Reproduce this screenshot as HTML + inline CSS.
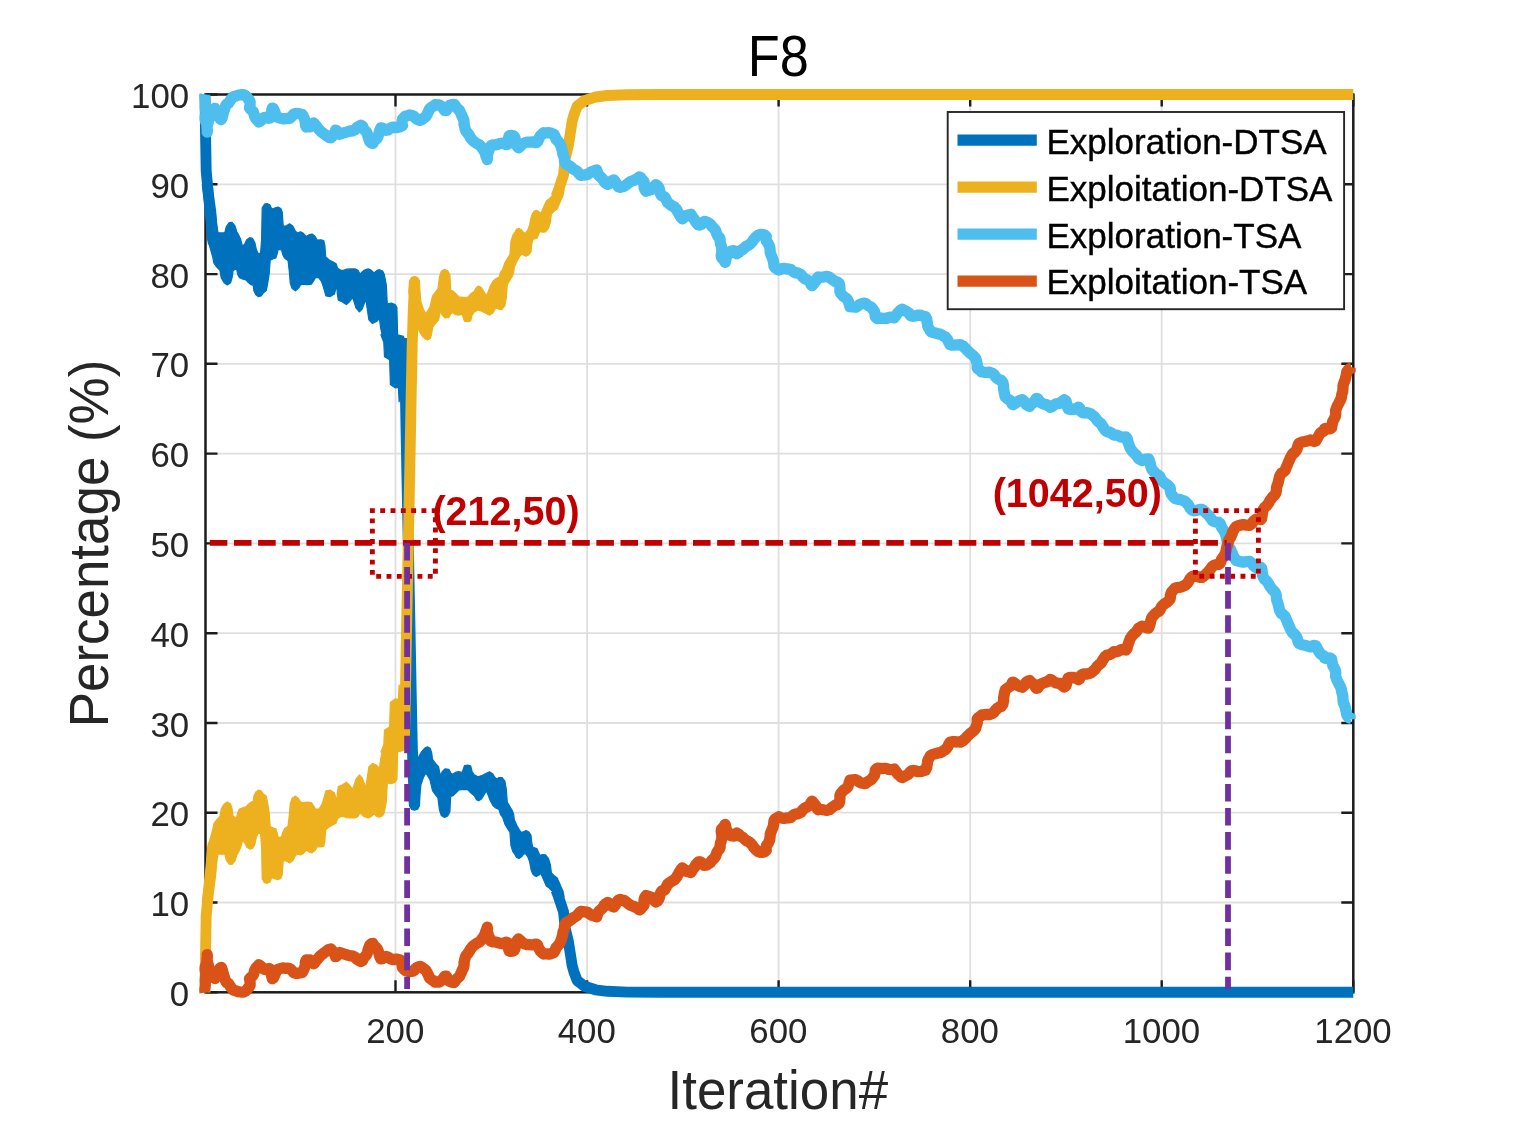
<!DOCTYPE html><html><head><meta charset="utf-8"><title>F8</title><style>html,body{margin:0;padding:0;background:#fff}body{width:1515px;height:1148px;overflow:hidden}</style></head><body><svg width="1515" height="1148" viewBox="0 0 1515 1148" style="display:block">
<rect width="1515" height="1148" fill="#fff"/>
<line x1="395.5" y1="94.5" x2="395.5" y2="992.3" stroke="#DFDFDF" stroke-width="1.8"/>
<line x1="587.1" y1="94.5" x2="587.1" y2="992.3" stroke="#DFDFDF" stroke-width="1.8"/>
<line x1="778.6" y1="94.5" x2="778.6" y2="992.3" stroke="#DFDFDF" stroke-width="1.8"/>
<line x1="970.2" y1="94.5" x2="970.2" y2="992.3" stroke="#DFDFDF" stroke-width="1.8"/>
<line x1="1161.7" y1="94.5" x2="1161.7" y2="992.3" stroke="#DFDFDF" stroke-width="1.8"/>
<line x1="204.9" y1="902.5" x2="1353.3" y2="902.5" stroke="#DFDFDF" stroke-width="1.8"/>
<line x1="204.9" y1="812.7" x2="1353.3" y2="812.7" stroke="#DFDFDF" stroke-width="1.8"/>
<line x1="204.9" y1="723.0" x2="1353.3" y2="723.0" stroke="#DFDFDF" stroke-width="1.8"/>
<line x1="204.9" y1="633.2" x2="1353.3" y2="633.2" stroke="#DFDFDF" stroke-width="1.8"/>
<line x1="204.9" y1="543.4" x2="1353.3" y2="543.4" stroke="#DFDFDF" stroke-width="1.8"/>
<line x1="204.9" y1="453.6" x2="1353.3" y2="453.6" stroke="#DFDFDF" stroke-width="1.8"/>
<line x1="204.9" y1="363.8" x2="1353.3" y2="363.8" stroke="#DFDFDF" stroke-width="1.8"/>
<line x1="204.9" y1="274.1" x2="1353.3" y2="274.1" stroke="#DFDFDF" stroke-width="1.8"/>
<line x1="204.9" y1="184.3" x2="1353.3" y2="184.3" stroke="#DFDFDF" stroke-width="1.8"/>
<rect x="205.5" y="94.5" width="1147.8" height="897.8" fill="none" stroke="#1c1c1c" stroke-width="2.5"/>
<path d="M395.5 992.3 v-12 M395.5 94.5 v12" stroke="#1c1c1c" stroke-width="2.4"/>
<path d="M587.1 992.3 v-12 M587.1 94.5 v12" stroke="#1c1c1c" stroke-width="2.4"/>
<path d="M778.6 992.3 v-12 M778.6 94.5 v12" stroke="#1c1c1c" stroke-width="2.4"/>
<path d="M970.2 992.3 v-12 M970.2 94.5 v12" stroke="#1c1c1c" stroke-width="2.4"/>
<path d="M1161.7 992.3 v-12 M1161.7 94.5 v12" stroke="#1c1c1c" stroke-width="2.4"/>
<path d="M1353.3 992.3 v-12 M1353.3 94.5 v12" stroke="#1c1c1c" stroke-width="2.4"/>
<path d="M205.5 992.3 h12 M1353.3 992.3 h-12" stroke="#1c1c1c" stroke-width="2.4"/>
<path d="M205.5 902.5 h12 M1353.3 902.5 h-12" stroke="#1c1c1c" stroke-width="2.4"/>
<path d="M205.5 812.7 h12 M1353.3 812.7 h-12" stroke="#1c1c1c" stroke-width="2.4"/>
<path d="M205.5 723.0 h12 M1353.3 723.0 h-12" stroke="#1c1c1c" stroke-width="2.4"/>
<path d="M205.5 633.2 h12 M1353.3 633.2 h-12" stroke="#1c1c1c" stroke-width="2.4"/>
<path d="M205.5 543.4 h12 M1353.3 543.4 h-12" stroke="#1c1c1c" stroke-width="2.4"/>
<path d="M205.5 453.6 h12 M1353.3 453.6 h-12" stroke="#1c1c1c" stroke-width="2.4"/>
<path d="M205.5 363.8 h12 M1353.3 363.8 h-12" stroke="#1c1c1c" stroke-width="2.4"/>
<path d="M205.5 274.1 h12 M1353.3 274.1 h-12" stroke="#1c1c1c" stroke-width="2.4"/>
<path d="M205.5 184.3 h12 M1353.3 184.3 h-12" stroke="#1c1c1c" stroke-width="2.4"/>
<path d="M205.5 94.5 h12 M1353.3 94.5 h-12" stroke="#1c1c1c" stroke-width="2.4"/>
<clipPath id="c"><rect x="199.3" y="82.5" width="1156.4" height="921.8"/></clipPath>
<g clip-path="url(#c)" fill="none" stroke-width="10.9" stroke-linejoin="round" stroke-linecap="butt">
<path d="M211.0 184.5 L213.2 210.7 L215.4 213.6 L216.8 225.3 L218.0 232.6 L221.9 232.9 L224.8 232.6 L226.3 226.7 L229.2 222.7 L232.1 222.4 L235.0 226.0 L236.8 231.8 L238.6 234.7 L240.8 239.8 L242.3 245.7 L244.5 244.5 L246.7 239.8 L249.6 237.7 L252.5 238.4 L254.9 242.7 L256.1 248.6 L257.9 253.2 L260.5 253.7 L261.6 239.8 L262.2 207.8 L264.5 204.2 L267.0 203.5 L269.9 204.9 L271.8 209.0 L274.7 208.1 L277.9 207.1 L280.8 208.6 L282.3 212.2 L283.2 226.0 L285.9 226.0 L289.6 223.8 L292.8 226.0 L295.4 231.1 L297.6 232.9 L300.5 231.8 L303.4 233.3 L306.3 236.6 L309.2 234.7 L312.1 234.0 L315.0 236.2 L317.2 240.1 L320.9 239.8 L323.8 240.6 L324.9 245.7 L325.7 257.0 L329.6 260.2 L333.2 262.0 L336.1 263.8 L337.6 268.2 L340.5 270.1 L343.4 270.4 L346.3 269.2 L350.7 268.9 L355.0 268.9 L358.0 270.4 L360.1 274.0 L363.8 270.4 L368.1 268.9 L371.1 270.1 L374.0 273.0 L376.9 270.4 L379.5 269.7 L382.7 271.1 L384.4 274.8 L386.3 284.9 L387.3 303.9 L391.4 303.1 L395.1 304.6 L396.9 307.5 L397.5 330.0 L397.6 334.9 L403.5 336.4 L407.1 348.0 L408.1 361.1 L399.1 401.8 L398.4 387.3 L395.5 388.0 L390.4 384.4 L389.6 359.7 L384.5 356.7 L383.8 342.2 L380.9 334.9 L382.0 334.4 L380.5 327.1 L379.5 318.4 L376.9 321.3 L372.5 323.5 L368.9 319.9 L367.1 308.2 L366.0 299.5 L364.1 303.9 L362.3 308.9 L359.4 311.9 L355.8 307.5 L354.3 302.4 L352.9 298.0 L351.4 299.2 L349.5 301.7 L346.3 304.6 L342.0 301.7 L338.3 300.2 L337.3 293.7 L336.9 286.4 L336.1 287.9 L334.4 294.0 L330.3 296.6 L325.9 295.9 L324.5 290.8 L322.3 283.5 L320.9 280.6 L318.7 277.7 L315.5 277.7 L313.6 280.9 L311.4 284.2 L307.0 284.7 L302.7 284.2 L300.5 284.9 L298.6 288.1 L295.4 290.8 L292.2 288.6 L290.3 283.5 L289.3 271.8 L288.1 260.9 L284.5 258.0 L282.7 254.4 L281.6 250.0 L278.2 249.3 L277.2 253.7 L275.8 258.0 L272.8 259.0 L270.2 260.2 L269.2 273.6 L267.7 283.5 L266.3 290.5 L263.4 292.9 L261.2 296.0 L258.3 296.6 L255.8 294.8 L253.9 290.8 L253.2 285.2 L251.0 284.7 L248.1 282.3 L245.9 279.9 L243.0 279.1 L239.4 277.7 L237.9 274.8 L236.5 268.9 L233.1 270.4 L232.1 277.7 L230.6 282.8 L227.3 284.9 L224.1 282.8 L221.2 277.7 L220.0 270.4 L216.8 267.2 L213.9 263.1 L212.8 257.3 L210.3 248.6 L207.8 239.8 L205.9 218.0 L204.0 199.1 L202.3 184.5Z" fill="#0072BD" stroke="#0072BD" stroke-width="1.2"/>
<path d="M408.8 795.0 L409.5 805.9 L411.7 809.5 L414.6 810.2 L417.6 809.2 L419.4 805.9 L420.0 795.0 L420.9 784.8 L423.4 777.5 L425.8 773.1 L427.7 776.0 L429.9 779.7 L432.5 790.6 L435.0 794.2 L437.9 797.9 L439.4 809.5 L441.3 815.6 L444.5 817.5 L447.7 816.0 L449.9 811.7 L450.7 796.4 L453.2 795.7 L456.1 792.8 L459.0 789.9 L463.4 789.4 L467.7 789.6 L470.7 792.8 L474.3 795.7 L476.5 799.6 L478.7 800.8 L481.6 799.0 L484.0 795.0 L486.4 790.9 L488.1 795.0 L490.3 800.8 L493.2 805.9 L496.1 808.3 L499.0 809.5 L500.5 814.6 L502.7 817.5 L504.9 824.1 L507.0 827.7 L509.9 832.1 L511.0 845.9 L512.9 851.7 L515.0 854.6 L516.5 857.5 L519.0 858.4 L521.6 856.8 L523.8 853.9 L525.9 853.9 L528.1 857.5 L529.6 861.9 L531.0 869.2 L532.5 873.5 L534.4 875.7 L536.4 876.4 L539.0 875.0 L540.9 873.5 L542.2 876.4 L543.7 880.1 L546.3 885.9 L549.2 888.1 L552.1 891.0 L555.0 896.8 L564.1 896.8 L563.0 891.0 L560.9 886.6 L559.1 882.3 L557.2 877.9 L554.3 875.7 L551.4 872.8 L550.4 864.8 L548.5 858.7 L545.6 854.9 L542.7 854.6 L539.8 855.3 L538.3 851.7 L536.9 848.5 L532.9 847.3 L531.8 843.0 L531.0 835.0 L528.9 832.1 L525.9 830.6 L523.0 832.1 L520.9 832.1 L519.4 829.9 L516.9 825.5 L514.3 819.7 L513.6 813.9 L512.1 810.2 L509.9 806.6 L507.3 802.2 L506.3 789.1 L504.9 781.1 L501.9 777.5 L499.0 777.5 L496.8 778.9 L494.7 777.2 L492.8 773.9 L489.6 771.7 L485.2 773.9 L481.6 775.7 L477.9 776.8 L474.3 774.9 L472.1 771.7 L470.7 765.9 L467.7 765.1 L464.5 765.6 L463.4 768.8 L462.2 772.4 L458.3 771.7 L455.4 772.4 L452.5 774.3 L451.0 773.1 L448.8 769.3 L445.2 768.8 L442.3 771.4 L440.8 775.3 L439.8 773.1 L438.6 766.6 L435.7 763.7 L432.5 759.3 L431.7 752.8 L430.2 748.4 L427.3 746.9 L424.8 748.1 L421.9 751.3 L419.7 754.9 L418.0 760.0 L417.3 751.3Z" fill="#0072BD" stroke="#0072BD" stroke-width="1.2"/>
<path d="M204.9 94.5 L205.6 137.0 L206.2 171.0 L207.6 186.0 L209.2 200.0 L210.7 211.0 L212.2 230.0 L213.3 244.0" stroke="#0072BD"/>
<path d="M404.2 338.0 L405.5 400.0 L406.8 470.0 L408.3 543.4 L409.8 617.0 L411.1 687.0 L412.2 742.0 L413.2 775.0 L414.6 804.3" stroke="#0072BD"/>
<path d="M556.0 890.3 L558.2 895.8 L560.5 902.8 L563.5 911.8 L565.3 928.8 L568.3 941.0 L570.8 956.8 L572.2 965.8 L573.9 971.8 L577.2 980.7 L584.4 986.2 L595.5 989.8 L607.4 991.3 L627.2 992.1 L660.0 992.3 L1353.3 992.3" stroke="#0072BD"/>
<path d="M211.0 902.3 L213.2 876.1 L215.4 873.2 L216.8 861.5 L218.0 854.2 L221.9 853.9 L224.8 854.2 L226.3 860.1 L229.2 864.1 L232.1 864.4 L235.0 860.8 L236.8 855.0 L238.6 852.1 L240.8 847.0 L242.3 841.1 L244.5 842.3 L246.7 847.0 L249.6 849.1 L252.5 848.4 L254.9 844.1 L256.1 838.2 L257.9 833.6 L260.5 833.1 L261.6 847.0 L262.2 879.0 L264.5 882.6 L267.0 883.3 L269.9 881.9 L271.8 877.8 L274.7 878.7 L277.9 879.7 L280.8 878.2 L282.3 874.6 L283.2 860.8 L285.9 860.8 L289.6 863.0 L292.8 860.8 L295.4 855.7 L297.6 853.9 L300.5 855.0 L303.4 853.5 L306.3 850.2 L309.2 852.1 L312.1 852.8 L315.0 850.6 L317.2 846.7 L320.9 847.0 L323.8 846.2 L324.9 841.1 L325.7 829.8 L329.6 826.6 L333.2 824.8 L336.1 823.0 L337.6 818.6 L340.5 816.7 L343.4 816.4 L346.3 817.6 L350.7 817.9 L355.0 817.9 L358.0 816.4 L360.1 812.8 L363.8 816.4 L368.1 817.9 L371.1 816.7 L374.0 813.8 L376.9 816.4 L379.5 817.1 L382.7 815.7 L384.4 812.0 L386.3 801.9 L387.3 782.9 L391.4 783.7 L395.1 782.2 L396.9 779.3 L397.5 756.8 L397.6 751.9 L403.5 750.4 L407.1 738.8 L408.1 725.7 L399.1 685.0 L398.4 699.5 L395.5 698.8 L390.4 702.4 L389.6 727.1 L384.5 730.1 L383.8 744.6 L380.9 751.9 L382.0 752.4 L380.5 759.7 L379.5 768.4 L376.9 765.5 L372.5 763.3 L368.9 766.9 L367.1 778.6 L366.0 787.3 L364.1 782.9 L362.3 777.9 L359.4 774.9 L355.8 779.3 L354.3 784.4 L352.9 788.8 L351.4 787.6 L349.5 785.1 L346.3 782.2 L342.0 785.1 L338.3 786.6 L337.3 793.1 L336.9 800.4 L336.1 798.9 L334.4 792.8 L330.3 790.2 L325.9 790.9 L324.5 796.0 L322.3 803.3 L320.9 806.2 L318.7 809.1 L315.5 809.1 L313.6 805.9 L311.4 802.6 L307.0 802.1 L302.7 802.6 L300.5 801.9 L298.6 798.7 L295.4 796.0 L292.2 798.2 L290.3 803.3 L289.3 815.0 L288.1 825.9 L284.5 828.8 L282.7 832.4 L281.6 836.8 L278.2 837.5 L277.2 833.1 L275.8 828.8 L272.8 827.8 L270.2 826.6 L269.2 813.2 L267.7 803.3 L266.3 796.3 L263.4 793.9 L261.2 790.8 L258.3 790.2 L255.8 792.0 L253.9 796.0 L253.2 801.6 L251.0 802.1 L248.1 804.5 L245.9 806.9 L243.0 807.7 L239.4 809.1 L237.9 812.0 L236.5 817.9 L233.1 816.4 L232.1 809.1 L230.6 804.0 L227.3 801.9 L224.1 804.0 L221.2 809.1 L220.0 816.4 L216.8 819.6 L213.9 823.7 L212.8 829.5 L210.3 838.2 L207.8 847.0 L205.9 868.8 L204.0 887.7 L202.3 902.3Z" fill="#EDB120" stroke="#EDB120" stroke-width="1.2"/>
<path d="M408.8 291.8 L409.5 280.9 L411.7 277.3 L414.6 276.6 L417.6 277.6 L419.4 280.9 L420.0 291.8 L420.9 302.0 L423.4 309.3 L425.8 313.7 L427.7 310.8 L429.9 307.1 L432.5 296.2 L435.0 292.6 L437.9 288.9 L439.4 277.3 L441.3 271.2 L444.5 269.3 L447.7 270.8 L449.9 275.1 L450.7 290.4 L453.2 291.1 L456.1 294.0 L459.0 296.9 L463.4 297.4 L467.7 297.2 L470.7 294.0 L474.3 291.1 L476.5 287.2 L478.7 286.0 L481.6 287.8 L484.0 291.8 L486.4 295.9 L488.1 291.8 L490.3 286.0 L493.2 280.9 L496.1 278.5 L499.0 277.3 L500.5 272.2 L502.7 269.3 L504.9 262.7 L507.0 259.1 L509.9 254.7 L511.0 240.9 L512.9 235.1 L515.0 232.2 L516.5 229.3 L519.0 228.4 L521.6 230.0 L523.8 232.9 L525.9 232.9 L528.1 229.3 L529.6 224.9 L531.0 217.6 L532.5 213.3 L534.4 211.1 L536.4 210.4 L539.0 211.8 L540.9 213.3 L542.2 210.4 L543.7 206.7 L546.3 200.9 L549.2 198.7 L552.1 195.8 L555.0 190.0 L564.1 190.0 L563.0 195.8 L560.9 200.2 L559.1 204.5 L557.2 208.9 L554.3 211.1 L551.4 214.0 L550.4 222.0 L548.5 228.1 L545.6 231.9 L542.7 232.2 L539.8 231.5 L538.3 235.1 L536.9 238.3 L532.9 239.5 L531.8 243.8 L531.0 251.8 L528.9 254.7 L525.9 256.2 L523.0 254.7 L520.9 254.7 L519.4 256.9 L516.9 261.3 L514.3 267.1 L513.6 272.9 L512.1 276.6 L509.9 280.2 L507.3 284.6 L506.3 297.7 L504.9 305.7 L501.9 309.3 L499.0 309.3 L496.8 307.9 L494.7 309.6 L492.8 312.9 L489.6 315.1 L485.2 312.9 L481.6 311.1 L477.9 310.0 L474.3 311.9 L472.1 315.1 L470.7 320.9 L467.7 321.7 L464.5 321.2 L463.4 318.0 L462.2 314.4 L458.3 315.1 L455.4 314.4 L452.5 312.5 L451.0 313.7 L448.8 317.5 L445.2 318.0 L442.3 315.4 L440.8 311.5 L439.8 313.7 L438.6 320.2 L435.7 323.1 L432.5 327.5 L431.7 334.0 L430.2 338.4 L427.3 339.9 L424.8 338.7 L421.9 335.5 L419.7 331.9 L418.0 326.8 L417.3 335.5Z" fill="#EDB120" stroke="#EDB120" stroke-width="1.2"/>
<path d="M204.9 992.3 L205.6 949.8 L206.2 915.8 L207.6 900.8 L209.2 886.8 L210.7 875.8 L212.2 856.8 L213.3 842.8" stroke="#EDB120"/>
<path d="M404.2 748.8 L405.5 686.8 L406.8 616.8 L408.3 543.4 L409.8 469.8 L411.1 399.8 L412.2 344.8 L413.2 311.8 L414.6 282.5" stroke="#EDB120"/>
<path d="M556.0 196.5 L558.2 191.0 L560.5 184.0 L563.5 175.0 L565.3 158.0 L568.3 145.8 L570.8 130.0 L572.2 121.0 L573.9 115.0 L577.2 106.1 L584.4 100.6 L595.5 97.0 L607.4 95.5 L627.2 94.7 L660.0 94.5 L1353.3 94.5" stroke="#EDB120"/>
<path d="M204.9 94.3 L204.4 96.8 L204.8 98.5 L205.1 100.1 L205.3 101.9 L205.3 103.6 L205.1 105.5 L205.2 107.7 L205.5 110.3 L205.9 112.4 L205.7 114.4 L205.1 116.2 L204.8 118.2 L205.1 119.9 L205.8 121.6 L206.6 123.4 L207.0 126.1 L207.2 128.1 L207.3 130.4 L207.2 132.2 L207.3 131.2 L207.2 129.5 L207.0 127.9 L207.3 125.7 L208.0 122.9 L208.8 119.6 L209.4 117.2 L210.1 115.4 L210.9 114.5 L211.9 113.1 L212.9 111.3 L214.1 109.5 L214.9 108.3 L215.8 109.8 L216.5 110.7 L217.6 113.0 L218.8 115.7 L220.2 119.0 L221.3 119.5 L222.2 117.4 L222.7 115.2 L223.3 112.8 L224.0 110.6 L225.1 107.5 L226.0 105.1 L226.7 104.0 L227.3 103.9 L228.3 103.4 L229.4 101.9 L230.7 99.8 L231.8 98.2 L233.3 96.7 L235.6 96.1 L238.1 95.2 L240.3 94.8 L242.1 94.6 L243.5 94.6 L245.2 95.6 L246.9 96.9 L248.1 98.9 L249.3 99.9 L250.1 101.6 L250.1 104.1 L249.8 106.7 L249.5 108.1 L250.3 108.9 L251.6 110.0 L253.2 111.7 L254.1 114.3 L254.7 116.6 L255.9 118.8 L257.3 120.1 L258.8 121.9 L260.2 121.2 L261.6 119.9 L263.5 118.0 L265.1 117.3 L267.2 117.7 L269.0 118.3 L270.4 117.7 L270.8 116.5 L271.0 115.0 L271.3 113.0 L271.8 110.3 L272.3 108.1 L273.3 108.6 L274.5 111.2 L275.6 113.9 L276.7 116.2 L278.2 117.6 L280.1 118.1 L282.1 118.7 L283.7 118.9 L285.9 118.4 L287.5 118.6 L288.9 118.5 L290.0 118.1 L291.8 116.4 L293.7 114.1 L296.0 113.3 L298.0 113.5 L300.0 114.0 L302.1 114.3 L303.1 115.8 L304.2 118.2 L305.0 120.5 L305.3 123.5 L305.6 125.5 L306.4 127.0 L308.5 126.7 L310.0 126.8 L311.2 125.8 L312.1 124.7 L313.6 123.0 L314.5 123.8 L315.6 125.2 L316.7 126.6 L318.1 128.5 L319.6 130.1 L321.1 131.7 L322.6 132.7 L324.0 133.9 L325.6 135.0 L327.2 136.2 L329.1 137.4 L330.9 137.8 L332.3 136.2 L333.6 134.5 L334.8 132.5 L335.6 130.2 L336.5 130.4 L337.5 131.7 L338.5 133.1 L339.8 134.3 L342.0 133.5 L344.4 132.7 L346.7 132.1 L348.5 131.4 L350.0 131.0 L352.0 131.0 L353.6 130.3 L355.4 129.5 L356.7 127.7 L359.0 126.3 L360.9 125.3 L362.6 126.2 L363.2 128.2 L364.3 129.6 L365.7 131.2 L366.8 132.4 L367.5 134.3 L367.9 136.2 L368.8 139.0 L369.8 141.7 L371.5 143.1 L372.9 143.3 L374.1 141.0 L375.5 139.9 L377.0 138.3 L378.0 136.4 L378.7 134.1 L379.2 132.1 L379.8 130.3 L380.8 128.0 L382.6 128.1 L384.5 129.4 L386.1 130.3 L387.9 129.9 L390.0 128.3 L392.0 127.4 L393.7 127.1 L395.3 127.7 L397.3 127.6 L399.6 127.1 L401.5 126.1 L402.6 125.5 L401.8 123.7 L402.0 121.8 L402.4 119.3 L404.0 117.5 L405.5 116.1 L407.7 115.7 L409.4 115.0 L411.2 115.3 L412.5 115.6 L413.9 116.2 L415.1 117.7 L416.8 119.2 L418.5 120.0 L420.3 120.4 L422.0 119.4 L424.0 118.0 L425.9 116.4 L427.1 114.4 L428.0 112.3 L428.7 111.2 L429.2 109.5 L429.9 108.6 L431.5 107.2 L433.3 106.3 L435.2 104.6 L437.2 104.9 L439.3 104.8 L441.2 106.1 L443.1 108.1 L444.8 110.7 L446.3 110.7 L447.1 109.2 L448.1 106.9 L449.7 105.4 L452.1 104.5 L454.2 104.3 L455.6 106.3 L456.7 107.8 L458.0 109.1 L459.4 110.3 L460.2 112.0 L461.2 114.0 L462.0 116.2 L463.3 118.7 L464.0 120.8 L464.1 123.0 L464.0 124.0 L464.3 125.3 L464.7 126.9 L465.2 129.2 L466.0 131.2 L467.4 132.8 L468.7 134.5 L469.7 136.1 L470.3 137.5 L471.4 138.8 L472.7 140.4 L474.6 142.0 L476.7 143.5 L479.0 144.6 L480.4 145.8 L481.3 146.8 L482.1 148.1 L483.2 149.4 L484.2 151.2 L485.2 152.9 L485.8 155.6 L486.7 157.4 L487.2 159.6 L487.5 157.7 L487.2 156.0 L488.0 153.3 L488.5 151.1 L489.7 148.6 L490.1 147.0 L491.1 145.4 L492.6 145.0 L495.0 144.9 L496.8 144.5 L499.0 143.8 L501.1 143.3 L503.1 143.2 L504.7 143.8 L506.1 144.6 L507.6 144.2 L508.0 141.7 L508.3 139.1 L508.7 137.5 L509.1 135.9 L510.5 135.4 L512.4 135.6 L514.2 136.3 L515.0 138.1 L515.3 140.7 L515.9 142.9 L516.6 145.1 L517.5 146.7 L518.5 147.8 L519.9 146.7 L521.1 145.6 L522.7 143.8 L524.7 142.9 L527.0 142.2 L529.2 142.2 L531.1 142.0 L533.0 142.0 L535.1 142.7 L536.4 142.6 L537.4 142.0 L538.1 140.4 L539.1 138.0 L540.4 135.7 L541.9 134.3 L542.9 133.4 L543.6 132.7 L545.0 133.0 L546.6 132.9 L548.9 132.6 L551.4 133.3 L553.9 134.2 L555.1 136.4 L555.6 137.9 L556.1 139.3 L557.2 140.2 L558.2 141.5 L559.3 142.7 L560.2 144.5 L561.2 147.0 L561.9 149.3 L562.6 151.5 L562.8 153.3 L563.0 154.8 L563.4 155.7 L564.0 156.9 L564.4 159.1 L564.6 161.9 L565.8 164.1 L567.9 165.0 L569.9 166.2 L571.7 167.4 L572.9 169.1 L574.2 169.6 L575.7 170.4 L577.3 171.5 L578.7 173.3 L579.7 174.5 L580.9 175.4 L583.1 175.1 L585.5 174.8 L587.4 174.7 L588.6 173.6 L589.9 172.8 L591.3 171.7 L593.3 171.3 L594.9 170.5 L596.8 170.0 L597.2 171.6 L597.8 173.1 L598.7 175.3 L600.3 176.7 L602.1 178.4 L603.2 179.6 L604.3 181.9 L605.8 183.2 L607.6 184.4 L609.2 183.6 L610.7 181.8 L612.3 180.5 L614.0 179.9 L615.5 182.1 L617.0 184.7 L618.4 186.7 L620.0 187.4 L622.1 186.7 L624.0 186.4 L626.3 184.8 L628.2 183.2 L630.6 181.5 L632.8 180.7 L634.9 179.9 L636.6 178.9 L637.8 178.2 L638.7 177.4 L639.4 176.9 L640.6 177.5 L641.9 179.4 L643.4 180.7 L644.1 182.0 L644.0 183.5 L644.0 185.7 L644.2 188.0 L645.0 189.8 L646.1 191.3 L647.9 190.6 L650.0 189.9 L651.0 189.5 L652.0 189.4 L653.0 188.1 L654.5 185.9 L655.9 184.8 L657.5 185.8 L659.0 188.0 L659.7 190.5 L660.2 192.8 L660.8 194.5 L661.7 195.7 L662.7 196.2 L663.9 196.5 L664.9 197.3 L666.1 199.5 L667.5 202.4 L669.6 204.2 L671.5 205.5 L672.9 206.3 L674.6 207.0 L675.5 208.4 L676.6 209.4 L677.2 210.9 L678.3 212.6 L679.6 215.1 L681.0 217.4 L682.3 218.9 L683.5 218.0 L685.1 216.8 L686.9 215.3 L689.3 214.8 L691.0 214.3 L691.9 215.9 L693.0 217.8 L694.6 219.6 L695.7 222.0 L696.9 223.3 L698.1 224.7 L699.7 225.1 L701.4 224.4 L702.7 222.8 L704.1 221.5 L705.8 221.6 L708.1 222.6 L710.3 224.1 L711.5 226.0 L712.6 227.0 L713.6 228.2 L714.6 229.0 L715.7 230.8 L716.3 232.7 L717.2 235.0 L718.2 236.5 L719.5 237.8 L720.1 239.4 L720.1 241.4 L720.5 243.9 L721.3 245.9 L721.8 248.3 L721.9 250.6 L721.5 253.3 L721.2 255.5 L721.5 257.5 L722.7 258.9 L724.1 260.5 L725.2 262.4 L725.6 261.0 L725.9 258.9 L726.5 256.7 L727.6 255.3 L728.4 254.0 L729.3 252.5 L730.6 251.2 L732.4 250.9 L734.0 250.7 L735.4 252.8 L736.8 253.7 L738.8 252.5 L740.7 250.3 L742.6 249.6 L743.8 248.3 L745.0 247.4 L746.1 246.1 L747.5 245.7 L749.0 244.9 L750.6 243.6 L752.5 241.4 L753.5 239.8 L754.7 238.4 L755.9 237.0 L758.1 235.3 L760.6 234.4 L762.5 234.4 L764.1 235.9 L765.5 236.9 L766.3 236.6 L764.7 235.0 L765.2 235.7 L765.8 237.7 L766.3 239.7 L766.5 241.3 L767.6 242.6 L768.6 244.4 L769.6 246.6 L770.0 249.2 L770.2 251.3 L770.2 252.6 L770.9 254.5 L771.7 256.6 L772.9 259.4 L773.5 261.6 L773.7 263.4 L773.9 265.0 L774.0 266.2 L774.9 267.7 L776.3 268.4 L778.0 269.5 L778.9 270.1 L780.4 269.3 L781.9 268.6 L783.9 268.4 L786.2 268.8 L788.6 268.9 L790.8 269.4 L792.4 271.0 L794.1 272.2 L795.8 272.8 L798.0 273.0 L799.4 273.7 L800.9 274.5 L801.5 275.3 L802.7 276.9 L804.4 278.5 L806.9 279.8 L809.2 281.0 L810.4 282.4 L810.9 284.3 L812.1 285.6 L813.8 283.6 L816.0 280.8 L817.3 278.0 L818.1 277.0 L818.9 277.1 L820.0 277.6 L821.7 277.3 L824.4 276.8 L827.0 276.4 L829.4 277.1 L831.3 278.8 L833.3 280.2 L835.4 281.7 L837.3 282.1 L839.0 283.2 L839.7 285.4 L839.9 288.2 L839.9 290.2 L839.9 291.5 L840.6 293.0 L841.9 294.7 L843.3 296.3 L844.9 297.4 L846.4 298.4 L847.6 299.8 L848.6 302.1 L849.3 304.5 L850.0 306.6 L851.6 306.8 L853.2 306.8 L855.1 307.1 L856.2 307.0 L857.6 306.2 L859.1 304.9 L861.6 303.7 L863.9 303.2 L865.8 303.5 L867.2 304.8 L868.9 305.9 L871.0 307.0 L872.3 308.5 L873.5 310.1 L874.4 311.3 L874.9 312.9 L875.1 314.6 L875.3 316.7 L876.5 318.0 L877.8 318.7 L879.7 318.5 L881.7 318.2 L884.1 318.4 L886.2 318.5 L888.4 317.5 L890.5 317.2 L892.6 317.1 L894.3 317.8 L895.2 316.4 L896.3 315.0 L897.6 313.0 L899.2 311.5 L900.7 310.0 L902.2 309.2 L904.4 310.5 L906.5 311.4 L908.3 312.6 L909.2 313.3 L910.0 314.9 L911.3 315.9 L913.3 316.3 L915.6 315.9 L917.7 315.2 L919.4 315.1 L921.3 315.4 L923.3 316.2 L925.5 316.6 L926.1 318.2 L926.8 319.4 L927.0 321.3 L927.4 323.7 L927.7 325.9 L928.4 327.6 L929.3 328.9 L930.1 330.6 L931.0 331.7 L932.7 332.4 L934.4 332.8 L936.2 333.3 L938.1 333.9 L940.3 334.2 L942.3 335.2 L943.4 336.0 L944.4 336.7 L945.5 337.0 L946.5 338.4 L947.7 339.9 L948.8 342.5 L950.0 344.6 L952.3 345.2 L954.2 345.2 L956.3 344.8 L958.1 345.0 L960.4 344.6 L962.0 345.6 L963.4 346.2 L964.3 347.4 L965.4 348.2 L966.6 349.8 L968.2 351.2 L970.0 353.1 L972.0 354.7 L973.7 356.1 L975.0 357.5 L975.9 358.9 L976.2 360.7 L976.8 362.3 L977.3 364.3 L977.2 366.4 L977.2 368.0 L978.6 369.3 L980.1 370.3 L981.7 371.9 L983.2 372.0 L985.1 372.3 L987.0 372.4 L989.1 372.1 L991.0 372.8 L992.3 373.3 L994.0 374.6 L995.2 376.3 L997.1 378.3 L999.1 379.7 L1001.2 380.2 L1002.0 381.6 L1002.9 382.5 L1003.2 384.2 L1003.6 386.4 L1003.6 389.1 L1004.1 391.5 L1004.4 393.5 L1004.8 395.3 L1005.3 397.1 L1006.9 398.3 L1008.6 399.5 L1010.4 400.6 L1011.5 402.3 L1012.3 404.3 L1013.0 404.7 L1014.6 403.7 L1017.0 401.9 L1019.8 400.4 L1022.3 399.6 L1023.7 400.7 L1024.9 402.3 L1026.3 404.7 L1028.0 405.7 L1029.7 406.3 L1031.0 404.4 L1032.7 403.4 L1034.0 401.9 L1035.2 400.1 L1036.2 398.5 L1037.6 398.6 L1039.2 400.9 L1041.0 402.8 L1043.1 403.7 L1044.9 404.4 L1046.8 404.8 L1048.6 406.0 L1050.2 407.3 L1051.7 406.7 L1053.5 405.3 L1055.5 404.1 L1058.0 403.5 L1059.9 403.4 L1061.3 402.3 L1062.6 400.9 L1064.2 399.8 L1066.0 401.0 L1066.8 403.9 L1067.4 406.3 L1067.6 407.3 L1068.1 408.8 L1070.1 409.5 L1073.2 409.4 L1075.8 408.5 L1077.4 408.1 L1078.5 407.2 L1079.5 407.9 L1080.3 409.5 L1081.2 411.6 L1082.5 412.6 L1084.6 413.0 L1087.0 412.7 L1089.2 413.3 L1091.2 414.1 L1093.0 415.7 L1094.8 417.2 L1096.1 418.8 L1097.1 420.5 L1098.4 421.6 L1099.5 422.6 L1100.9 423.5 L1102.0 425.4 L1103.6 427.9 L1105.1 430.3 L1106.8 431.6 L1108.0 432.0 L1109.3 432.0 L1110.8 432.8 L1112.3 433.8 L1113.8 435.1 L1115.2 435.0 L1116.9 435.2 L1118.9 435.8 L1121.1 437.1 L1123.6 437.1 L1125.9 436.8 L1127.1 438.4 L1127.5 440.4 L1127.9 441.8 L1128.1 442.4 L1128.6 443.6 L1129.2 445.4 L1130.3 448.4 L1132.0 450.9 L1134.1 453.2 L1135.7 454.4 L1136.7 455.6 L1137.5 456.9 L1138.5 458.5 L1140.2 459.6 L1142.0 460.6 L1144.6 459.7 L1146.8 459.0 L1148.5 458.8 L1149.3 460.5 L1150.2 463.3 L1150.9 466.5 L1151.6 468.8 L1152.5 470.1 L1153.7 471.4 L1155.5 473.4 L1157.3 474.6 L1158.7 475.4 L1159.6 476.3 L1160.6 478.2 L1161.7 480.4 L1163.0 481.7 L1164.7 483.1 L1166.7 484.3 L1168.8 486.2 L1170.1 487.7 L1170.4 489.7 L1170.3 491.1 L1170.8 492.9 L1171.6 494.8 L1173.4 496.8 L1174.9 498.4 L1176.5 499.0 L1178.0 499.4 L1180.1 499.4 L1181.8 500.1 L1183.5 500.8 L1185.2 501.5 L1186.5 502.9 L1188.0 504.4 L1189.2 506.5 L1190.2 508.3 L1191.3 509.5 L1192.5 510.3 L1194.4 510.8 L1197.0 510.2 L1199.8 509.5 L1201.9 509.4 L1203.0 510.1 L1204.0 511.1 L1205.3 511.9 L1206.7 513.5 L1208.4 515.1 L1209.9 517.0 L1211.3 518.9 L1212.4 520.5 L1214.3 521.6 L1216.2 522.1 L1218.7 522.4 L1220.0 523.3 L1220.8 525.2 L1221.4 527.2 L1222.8 529.1 L1224.1 531.0 L1225.1 533.0 L1225.6 534.4 L1226.0 535.9 L1226.3 537.5 L1226.9 540.1 L1227.6 542.3 L1227.9 544.1 L1228.5 545.4 L1229.0 547.1 L1230.4 549.1 L1231.3 551.2 L1232.2 553.0 L1232.5 554.8 L1233.6 556.5 L1234.7 558.4 L1236.1 560.3 L1237.9 560.9 L1240.1 561.6 L1242.2 562.1 L1244.1 562.2 L1245.8 561.7 L1247.6 561.7 L1249.5 561.4 L1250.8 562.5 L1252.1 563.4 L1253.3 565.5 L1255.2 567.1 L1256.9 568.0 L1259.0 567.7 L1260.7 567.2 L1261.7 568.3 L1262.0 570.7 L1262.4 573.4 L1262.7 575.7 L1263.4 577.5 L1264.6 579.4 L1266.5 580.9 L1267.8 582.5 L1268.8 584.1 L1269.8 586.1 L1271.2 588.0 L1272.5 589.7 L1273.6 590.8 L1274.9 592.1 L1275.9 593.8 L1276.4 596.6 L1276.5 599.0 L1277.0 600.9 L1277.6 602.3 L1278.2 604.4 L1278.7 606.4 L1279.1 608.3 L1279.5 610.0 L1280.3 611.8 L1281.3 613.4 L1282.9 614.4 L1284.0 615.4 L1285.2 616.7 L1286.1 619.0 L1287.3 621.8 L1288.5 624.8 L1289.5 626.9 L1290.0 628.2 L1290.5 629.2 L1291.4 630.8 L1292.2 632.3 L1293.2 633.6 L1294.2 633.9 L1295.4 635.2 L1296.7 637.0 L1297.6 639.8 L1298.2 641.9 L1298.8 643.3 L1300.2 643.9 L1302.2 644.8 L1304.8 645.3 L1307.3 645.9 L1309.3 646.4 L1310.6 646.8 L1312.3 646.0 L1314.2 645.3 L1315.9 645.9 L1317.1 648.2 L1318.2 650.2 L1319.3 652.2 L1320.4 653.7 L1322.0 655.1 L1323.3 655.4 L1324.2 656.4 L1324.5 657.9 L1325.9 658.4 L1327.8 658.1 L1330.0 658.0 L1331.6 658.9 L1331.9 661.2 L1332.4 663.5 L1332.7 665.4 L1333.7 667.0 L1334.7 668.9 L1335.6 671.1 L1335.7 673.6 L1335.7 675.1 L1335.6 676.5 L1336.2 678.0 L1337.2 680.6 L1338.6 683.2 L1339.6 685.3 L1340.4 686.6 L1340.8 687.6 L1341.4 689.4 L1341.8 692.4 L1342.7 695.2 L1342.9 697.5 L1343.0 698.9 L1343.0 700.4 L1343.1 701.6 L1343.6 703.1 L1344.2 704.7 L1345.1 706.9 L1345.7 709.4 L1346.4 712.2 L1346.8 715.1 L1348.4 717.1 L1349.8 718.1 L1351.5 718.5 L1351.7 719.6" stroke="#4DBEEE" stroke-width="11.3"/>
<path d="M204.9 992.5 L204.4 990.0 L204.8 988.3 L205.1 986.7 L205.3 984.9 L205.3 983.2 L205.1 981.3 L205.2 979.1 L205.5 976.5 L205.9 974.4 L205.7 972.4 L205.1 970.6 L204.8 968.6 L205.1 966.9 L205.8 965.2 L206.6 963.4 L207.0 960.7 L207.2 958.7 L207.3 956.4 L207.2 954.6 L207.3 955.6 L207.2 957.3 L207.0 958.9 L207.3 961.1 L208.0 963.9 L208.8 967.2 L209.4 969.6 L210.1 971.4 L210.9 972.3 L211.9 973.7 L212.9 975.5 L214.1 977.3 L214.9 978.5 L215.8 977.0 L216.5 976.1 L217.6 973.8 L218.8 971.1 L220.2 967.8 L221.3 967.3 L222.2 969.4 L222.7 971.6 L223.3 974.0 L224.0 976.2 L225.1 979.3 L226.0 981.7 L226.7 982.8 L227.3 982.9 L228.3 983.4 L229.4 984.9 L230.7 987.0 L231.8 988.6 L233.3 990.1 L235.6 990.7 L238.1 991.6 L240.3 992.0 L242.1 992.2 L243.5 992.2 L245.2 991.2 L246.9 989.9 L248.1 987.9 L249.3 986.9 L250.1 985.2 L250.1 982.7 L249.8 980.1 L249.5 978.7 L250.3 977.9 L251.6 976.8 L253.2 975.1 L254.1 972.5 L254.7 970.2 L255.9 968.0 L257.3 966.7 L258.8 964.9 L260.2 965.6 L261.6 966.9 L263.5 968.8 L265.1 969.5 L267.2 969.1 L269.0 968.5 L270.4 969.1 L270.8 970.3 L271.0 971.8 L271.3 973.8 L271.8 976.5 L272.3 978.7 L273.3 978.2 L274.5 975.6 L275.6 972.9 L276.7 970.6 L278.2 969.2 L280.1 968.7 L282.1 968.1 L283.7 967.9 L285.9 968.4 L287.5 968.2 L288.9 968.3 L290.0 968.7 L291.8 970.4 L293.7 972.7 L296.0 973.5 L298.0 973.3 L300.0 972.8 L302.1 972.5 L303.1 971.0 L304.2 968.6 L305.0 966.3 L305.3 963.3 L305.6 961.3 L306.4 959.8 L308.5 960.1 L310.0 960.0 L311.2 961.0 L312.1 962.1 L313.6 963.8 L314.5 963.0 L315.6 961.6 L316.7 960.2 L318.1 958.3 L319.6 956.7 L321.1 955.1 L322.6 954.1 L324.0 952.9 L325.6 951.8 L327.2 950.6 L329.1 949.4 L330.9 949.0 L332.3 950.6 L333.6 952.3 L334.8 954.3 L335.6 956.6 L336.5 956.4 L337.5 955.1 L338.5 953.7 L339.8 952.5 L342.0 953.3 L344.4 954.1 L346.7 954.7 L348.5 955.4 L350.0 955.8 L352.0 955.8 L353.6 956.5 L355.4 957.3 L356.7 959.1 L359.0 960.5 L360.9 961.5 L362.6 960.6 L363.2 958.6 L364.3 957.2 L365.7 955.6 L366.8 954.4 L367.5 952.5 L367.9 950.6 L368.8 947.8 L369.8 945.1 L371.5 943.7 L372.9 943.5 L374.1 945.8 L375.5 946.9 L377.0 948.5 L378.0 950.4 L378.7 952.7 L379.2 954.7 L379.8 956.5 L380.8 958.8 L382.6 958.7 L384.5 957.4 L386.1 956.5 L387.9 956.9 L390.0 958.5 L392.0 959.4 L393.7 959.7 L395.3 959.1 L397.3 959.2 L399.6 959.7 L401.5 960.7 L402.6 961.3 L401.8 963.1 L402.0 965.0 L402.4 967.5 L404.0 969.3 L405.5 970.7 L407.7 971.1 L409.4 971.8 L411.2 971.5 L412.5 971.2 L413.9 970.6 L415.1 969.1 L416.8 967.6 L418.5 966.8 L420.3 966.4 L422.0 967.4 L424.0 968.8 L425.9 970.4 L427.1 972.4 L428.0 974.5 L428.7 975.6 L429.2 977.3 L429.9 978.2 L431.5 979.6 L433.3 980.5 L435.2 982.2 L437.2 981.9 L439.3 982.0 L441.2 980.7 L443.1 978.7 L444.8 976.1 L446.3 976.1 L447.1 977.6 L448.1 979.9 L449.7 981.4 L452.1 982.3 L454.2 982.5 L455.6 980.5 L456.7 979.0 L458.0 977.7 L459.4 976.5 L460.2 974.8 L461.2 972.8 L462.0 970.6 L463.3 968.1 L464.0 966.0 L464.1 963.8 L464.0 962.8 L464.3 961.5 L464.7 959.9 L465.2 957.6 L466.0 955.6 L467.4 954.0 L468.7 952.3 L469.7 950.7 L470.3 949.3 L471.4 948.0 L472.7 946.4 L474.6 944.8 L476.7 943.3 L479.0 942.2 L480.4 941.0 L481.3 940.0 L482.1 938.7 L483.2 937.4 L484.2 935.6 L485.2 933.9 L485.8 931.2 L486.7 929.4 L487.2 927.2 L487.5 929.1 L487.2 930.8 L488.0 933.5 L488.5 935.7 L489.7 938.2 L490.1 939.8 L491.1 941.4 L492.6 941.8 L495.0 941.9 L496.8 942.3 L499.0 943.0 L501.1 943.5 L503.1 943.6 L504.7 943.0 L506.1 942.2 L507.6 942.6 L508.0 945.1 L508.3 947.7 L508.7 949.3 L509.1 950.9 L510.5 951.4 L512.4 951.2 L514.2 950.5 L515.0 948.7 L515.3 946.1 L515.9 943.9 L516.6 941.7 L517.5 940.1 L518.5 939.0 L519.9 940.1 L521.1 941.2 L522.7 943.0 L524.7 943.9 L527.0 944.6 L529.2 944.6 L531.1 944.8 L533.0 944.8 L535.1 944.1 L536.4 944.2 L537.4 944.8 L538.1 946.4 L539.1 948.8 L540.4 951.1 L541.9 952.5 L542.9 953.4 L543.6 954.1 L545.0 953.8 L546.6 953.9 L548.9 954.2 L551.4 953.5 L553.9 952.6 L555.1 950.4 L555.6 948.9 L556.1 947.5 L557.2 946.6 L558.2 945.3 L559.3 944.1 L560.2 942.3 L561.2 939.8 L561.9 937.5 L562.6 935.3 L562.8 933.5 L563.0 932.0 L563.4 931.1 L564.0 929.9 L564.4 927.7 L564.6 924.9 L565.8 922.7 L567.9 921.8 L569.9 920.6 L571.7 919.4 L572.9 917.7 L574.2 917.2 L575.7 916.4 L577.3 915.3 L578.7 913.5 L579.7 912.3 L580.9 911.4 L583.1 911.7 L585.5 912.0 L587.4 912.1 L588.6 913.2 L589.9 914.0 L591.3 915.1 L593.3 915.5 L594.9 916.3 L596.8 916.8 L597.2 915.2 L597.8 913.7 L598.7 911.5 L600.3 910.1 L602.1 908.4 L603.2 907.2 L604.3 904.9 L605.8 903.6 L607.6 902.4 L609.2 903.2 L610.7 905.0 L612.3 906.3 L614.0 906.9 L615.5 904.7 L617.0 902.1 L618.4 900.1 L620.0 899.4 L622.1 900.1 L624.0 900.4 L626.3 902.0 L628.2 903.6 L630.6 905.3 L632.8 906.1 L634.9 906.9 L636.6 907.9 L637.8 908.6 L638.7 909.4 L639.4 909.9 L640.6 909.3 L641.9 907.4 L643.4 906.1 L644.1 904.8 L644.0 903.3 L644.0 901.1 L644.2 898.8 L645.0 897.0 L646.1 895.5 L647.9 896.2 L650.0 896.9 L651.0 897.3 L652.0 897.4 L653.0 898.7 L654.5 900.9 L655.9 902.0 L657.5 901.0 L659.0 898.8 L659.7 896.3 L660.2 894.0 L660.8 892.3 L661.7 891.1 L662.7 890.6 L663.9 890.3 L664.9 889.5 L666.1 887.3 L667.5 884.4 L669.6 882.6 L671.5 881.3 L672.9 880.5 L674.6 879.8 L675.5 878.4 L676.6 877.4 L677.2 875.9 L678.3 874.2 L679.6 871.7 L681.0 869.4 L682.3 867.9 L683.5 868.8 L685.1 870.0 L686.9 871.5 L689.3 872.0 L691.0 872.5 L691.9 870.9 L693.0 869.0 L694.6 867.2 L695.7 864.8 L696.9 863.5 L698.1 862.1 L699.7 861.7 L701.4 862.4 L702.7 864.0 L704.1 865.3 L705.8 865.2 L708.1 864.2 L710.3 862.7 L711.5 860.8 L712.6 859.8 L713.6 858.6 L714.6 857.8 L715.7 856.0 L716.3 854.1 L717.2 851.8 L718.2 850.3 L719.5 849.0 L720.1 847.4 L720.1 845.4 L720.5 842.9 L721.3 840.9 L721.8 838.5 L721.9 836.2 L721.5 833.5 L721.2 831.3 L721.5 829.3 L722.7 827.9 L724.1 826.3 L725.2 824.4 L725.6 825.8 L725.9 827.9 L726.5 830.1 L727.6 831.5 L728.4 832.8 L729.3 834.3 L730.6 835.6 L732.4 835.9 L734.0 836.1 L735.4 834.0 L736.8 833.1 L738.8 834.3 L740.7 836.5 L742.6 837.2 L743.8 838.5 L745.0 839.4 L746.1 840.7 L747.5 841.1 L749.0 841.9 L750.6 843.2 L752.5 845.4 L753.5 847.0 L754.7 848.4 L755.9 849.8 L758.1 851.5 L760.6 852.4 L762.5 852.4 L764.1 850.9 L765.5 849.9 L766.3 850.2 L764.7 851.8 L765.2 851.1 L765.8 849.1 L766.3 847.1 L766.5 845.5 L767.6 844.2 L768.6 842.4 L769.6 840.2 L770.0 837.6 L770.2 835.5 L770.2 834.2 L770.9 832.3 L771.7 830.2 L772.9 827.4 L773.5 825.2 L773.7 823.4 L773.9 821.8 L774.0 820.6 L774.9 819.1 L776.3 818.4 L778.0 817.3 L778.9 816.7 L780.4 817.5 L781.9 818.2 L783.9 818.4 L786.2 818.0 L788.6 817.9 L790.8 817.4 L792.4 815.8 L794.1 814.6 L795.8 814.0 L798.0 813.8 L799.4 813.1 L800.9 812.3 L801.5 811.5 L802.7 809.9 L804.4 808.3 L806.9 807.0 L809.2 805.8 L810.4 804.4 L810.9 802.5 L812.1 801.2 L813.8 803.2 L816.0 806.0 L817.3 808.8 L818.1 809.8 L818.9 809.7 L820.0 809.2 L821.7 809.5 L824.4 810.0 L827.0 810.4 L829.4 809.7 L831.3 808.0 L833.3 806.6 L835.4 805.1 L837.3 804.7 L839.0 803.6 L839.7 801.4 L839.9 798.6 L839.9 796.6 L839.9 795.3 L840.6 793.8 L841.9 792.1 L843.3 790.5 L844.9 789.4 L846.4 788.4 L847.6 787.0 L848.6 784.7 L849.3 782.3 L850.0 780.2 L851.6 780.0 L853.2 780.0 L855.1 779.7 L856.2 779.8 L857.6 780.6 L859.1 781.9 L861.6 783.1 L863.9 783.6 L865.8 783.3 L867.2 782.0 L868.9 780.9 L871.0 779.8 L872.3 778.3 L873.5 776.7 L874.4 775.5 L874.9 773.9 L875.1 772.2 L875.3 770.1 L876.5 768.8 L877.8 768.1 L879.7 768.3 L881.7 768.6 L884.1 768.4 L886.2 768.3 L888.4 769.3 L890.5 769.6 L892.6 769.7 L894.3 769.0 L895.2 770.4 L896.3 771.8 L897.6 773.8 L899.2 775.3 L900.7 776.8 L902.2 777.6 L904.4 776.3 L906.5 775.4 L908.3 774.2 L909.2 773.5 L910.0 771.9 L911.3 770.9 L913.3 770.5 L915.6 770.9 L917.7 771.6 L919.4 771.7 L921.3 771.4 L923.3 770.6 L925.5 770.2 L926.1 768.6 L926.8 767.4 L927.0 765.5 L927.4 763.1 L927.7 760.9 L928.4 759.2 L929.3 757.9 L930.1 756.2 L931.0 755.1 L932.7 754.4 L934.4 754.0 L936.2 753.5 L938.1 752.9 L940.3 752.6 L942.3 751.6 L943.4 750.8 L944.4 750.1 L945.5 749.8 L946.5 748.4 L947.7 746.9 L948.8 744.3 L950.0 742.2 L952.3 741.6 L954.2 741.6 L956.3 742.0 L958.1 741.8 L960.4 742.2 L962.0 741.2 L963.4 740.6 L964.3 739.4 L965.4 738.6 L966.6 737.0 L968.2 735.6 L970.0 733.7 L972.0 732.1 L973.7 730.7 L975.0 729.3 L975.9 727.9 L976.2 726.1 L976.8 724.5 L977.3 722.5 L977.2 720.4 L977.2 718.8 L978.6 717.5 L980.1 716.5 L981.7 714.9 L983.2 714.8 L985.1 714.5 L987.0 714.4 L989.1 714.7 L991.0 714.0 L992.3 713.5 L994.0 712.2 L995.2 710.5 L997.1 708.5 L999.1 707.1 L1001.2 706.6 L1002.0 705.2 L1002.9 704.3 L1003.2 702.6 L1003.6 700.4 L1003.6 697.7 L1004.1 695.3 L1004.4 693.3 L1004.8 691.5 L1005.3 689.7 L1006.9 688.5 L1008.6 687.3 L1010.4 686.2 L1011.5 684.5 L1012.3 682.5 L1013.0 682.1 L1014.6 683.1 L1017.0 684.9 L1019.8 686.4 L1022.3 687.2 L1023.7 686.1 L1024.9 684.5 L1026.3 682.1 L1028.0 681.1 L1029.7 680.5 L1031.0 682.4 L1032.7 683.4 L1034.0 684.9 L1035.2 686.7 L1036.2 688.3 L1037.6 688.2 L1039.2 685.9 L1041.0 684.0 L1043.1 683.1 L1044.9 682.4 L1046.8 682.0 L1048.6 680.8 L1050.2 679.5 L1051.7 680.1 L1053.5 681.5 L1055.5 682.7 L1058.0 683.3 L1059.9 683.4 L1061.3 684.5 L1062.6 685.9 L1064.2 687.0 L1066.0 685.8 L1066.8 682.9 L1067.4 680.5 L1067.6 679.5 L1068.1 678.0 L1070.1 677.3 L1073.2 677.4 L1075.8 678.3 L1077.4 678.7 L1078.5 679.6 L1079.5 678.9 L1080.3 677.3 L1081.2 675.2 L1082.5 674.2 L1084.6 673.8 L1087.0 674.1 L1089.2 673.5 L1091.2 672.7 L1093.0 671.1 L1094.8 669.6 L1096.1 668.0 L1097.1 666.3 L1098.4 665.2 L1099.5 664.2 L1100.9 663.3 L1102.0 661.4 L1103.6 658.9 L1105.1 656.5 L1106.8 655.2 L1108.0 654.8 L1109.3 654.8 L1110.8 654.0 L1112.3 653.0 L1113.8 651.7 L1115.2 651.8 L1116.9 651.6 L1118.9 651.0 L1121.1 649.7 L1123.6 649.7 L1125.9 650.0 L1127.1 648.4 L1127.5 646.4 L1127.9 645.0 L1128.1 644.4 L1128.6 643.2 L1129.2 641.4 L1130.3 638.4 L1132.0 635.9 L1134.1 633.6 L1135.7 632.4 L1136.7 631.2 L1137.5 629.9 L1138.5 628.3 L1140.2 627.2 L1142.0 626.2 L1144.6 627.1 L1146.8 627.8 L1148.5 628.0 L1149.3 626.3 L1150.2 623.5 L1150.9 620.3 L1151.6 618.0 L1152.5 616.7 L1153.7 615.4 L1155.5 613.4 L1157.3 612.2 L1158.7 611.4 L1159.6 610.5 L1160.6 608.6 L1161.7 606.4 L1163.0 605.1 L1164.7 603.7 L1166.7 602.5 L1168.8 600.6 L1170.1 599.1 L1170.4 597.1 L1170.3 595.7 L1170.8 593.9 L1171.6 592.0 L1173.4 590.0 L1174.9 588.4 L1176.5 587.8 L1178.0 587.4 L1180.1 587.4 L1181.8 586.7 L1183.5 586.0 L1185.2 585.3 L1186.5 583.9 L1188.0 582.4 L1189.2 580.3 L1190.2 578.5 L1191.3 577.3 L1192.5 576.5 L1194.4 576.0 L1197.0 576.6 L1199.8 577.3 L1201.9 577.4 L1203.0 576.7 L1204.0 575.7 L1205.3 574.9 L1206.7 573.3 L1208.4 571.7 L1209.9 569.8 L1211.3 567.9 L1212.4 566.3 L1214.3 565.2 L1216.2 564.7 L1218.7 564.4 L1220.0 563.5 L1220.8 561.6 L1221.4 559.6 L1222.8 557.7 L1224.1 555.8 L1225.1 553.8 L1225.6 552.4 L1226.0 550.9 L1226.3 549.3 L1226.9 546.7 L1227.6 544.5 L1227.9 542.7 L1228.5 541.4 L1229.0 539.7 L1230.4 537.7 L1231.3 535.6 L1232.2 533.8 L1232.5 532.0 L1233.6 530.3 L1234.7 528.4 L1236.1 526.5 L1237.9 525.9 L1240.1 525.2 L1242.2 524.7 L1244.1 524.6 L1245.8 525.1 L1247.6 525.1 L1249.5 525.4 L1250.8 524.3 L1252.1 523.4 L1253.3 521.3 L1255.2 519.7 L1256.9 518.8 L1259.0 519.1 L1260.7 519.6 L1261.7 518.5 L1262.0 516.1 L1262.4 513.4 L1262.7 511.1 L1263.4 509.3 L1264.6 507.4 L1266.5 505.9 L1267.8 504.3 L1268.8 502.7 L1269.8 500.7 L1271.2 498.8 L1272.5 497.1 L1273.6 496.0 L1274.9 494.7 L1275.9 493.0 L1276.4 490.2 L1276.5 487.8 L1277.0 485.9 L1277.6 484.5 L1278.2 482.4 L1278.7 480.4 L1279.1 478.5 L1279.5 476.8 L1280.3 475.0 L1281.3 473.4 L1282.9 472.4 L1284.0 471.4 L1285.2 470.1 L1286.1 467.8 L1287.3 465.0 L1288.5 462.0 L1289.5 459.9 L1290.0 458.6 L1290.5 457.6 L1291.4 456.0 L1292.2 454.5 L1293.2 453.2 L1294.2 452.9 L1295.4 451.6 L1296.7 449.8 L1297.6 447.0 L1298.2 444.9 L1298.8 443.5 L1300.2 442.9 L1302.2 442.0 L1304.8 441.5 L1307.3 440.9 L1309.3 440.4 L1310.6 440.0 L1312.3 440.8 L1314.2 441.5 L1315.9 440.9 L1317.1 438.6 L1318.2 436.6 L1319.3 434.6 L1320.4 433.1 L1322.0 431.7 L1323.3 431.4 L1324.2 430.4 L1324.5 428.9 L1325.9 428.4 L1327.8 428.7 L1330.0 428.8 L1331.6 427.9 L1331.9 425.6 L1332.4 423.3 L1332.7 421.4 L1333.7 419.8 L1334.7 417.9 L1335.6 415.7 L1335.7 413.2 L1335.7 411.7 L1335.6 410.3 L1336.2 408.8 L1337.2 406.2 L1338.6 403.6 L1339.6 401.5 L1340.4 400.2 L1340.8 399.2 L1341.4 397.4 L1341.8 394.4 L1342.7 391.6 L1342.9 389.3 L1343.0 387.9 L1343.0 386.4 L1343.1 385.2 L1343.6 383.7 L1344.2 382.1 L1345.1 379.9 L1345.7 377.4 L1346.4 374.6 L1346.8 371.7 L1348.4 369.7 L1349.8 368.7 L1351.5 368.3 L1351.7 367.2" stroke="#D95319" stroke-width="11.3"/>
</g>
<rect x="947.7" y="112" width="396.4" height="197.2" fill="#fff" stroke="#262626" stroke-width="1.9"/>
<line x1="957.5" y1="140.2" x2="1036.8" y2="140.2" stroke="#0072BD" stroke-width="11.2"/>
<text transform="translate(1046.50 153.70)" font-family="Liberation Sans, Arial, Helvetica, sans-serif" font-size="35.00" fill="#000" text-anchor="start" stroke="#000" stroke-width="0.40">Exploration-DTSA</text>
<line x1="957.5" y1="187.2" x2="1036.8" y2="187.2" stroke="#EDB120" stroke-width="11.2"/>
<text transform="translate(1046.50 200.60)" font-family="Liberation Sans, Arial, Helvetica, sans-serif" font-size="35.00" fill="#000" text-anchor="start" stroke="#000" stroke-width="0.40">Exploitation-DTSA</text>
<line x1="957.5" y1="234.2" x2="1036.8" y2="234.2" stroke="#4DBEEE" stroke-width="11.2"/>
<text transform="translate(1046.50 247.50)" font-family="Liberation Sans, Arial, Helvetica, sans-serif" font-size="35.00" fill="#000" text-anchor="start" stroke="#000" stroke-width="0.40">Exploration-TSA</text>
<line x1="957.5" y1="281.2" x2="1036.8" y2="281.2" stroke="#D95319" stroke-width="11.2"/>
<text transform="translate(1046.50 294.40)" font-family="Liberation Sans, Arial, Helvetica, sans-serif" font-size="35.00" fill="#000" text-anchor="start" stroke="#000" stroke-width="0.40">Exploitation-TSA</text>
<line x1="209.8" y1="542.9" x2="1226.7" y2="542.9" stroke="#C00000" stroke-width="5.8" stroke-dasharray="17.56 6.6"/>
<rect x="372.35" y="510.6" width="63.05" height="65.8" fill="none" stroke="#C00000" stroke-width="4.9" stroke-dasharray="4.9 5.41" stroke-dashoffset="2.45"/>
<rect x="1195.4" y="510.6" width="63.0" height="65.7" fill="none" stroke="#C00000" stroke-width="4.9" stroke-dasharray="4.9 5.396" stroke-dashoffset="2.45"/>
<line x1="407.1" y1="542.9" x2="407.1" y2="989" stroke="#7030A0" stroke-width="5.8" stroke-dasharray="17.6 6.5"/>
<line x1="1228.0" y1="542.9" x2="1228.0" y2="989" stroke="#7030A0" stroke-width="5.8" stroke-dasharray="17.6 6.5"/>
<text transform="translate(432.40 524.70) scale(0.9880 1)" font-family="Liberation Sans, Arial, Helvetica, sans-serif" font-size="40.00" fill="#C00000" text-anchor="start" font-weight="bold">(212,50)</text>
<text transform="translate(992.70 507.10) scale(0.9880 1)" font-family="Liberation Sans, Arial, Helvetica, sans-serif" font-size="40.00" fill="#C00000" text-anchor="start" font-weight="bold">(1042,50)</text>
<text transform="translate(189.20 1005.90) scale(0.9670 1)" font-family="Liberation Sans, Arial, Helvetica, sans-serif" font-size="36.00" fill="#262626" text-anchor="end">0</text>
<text transform="translate(189.20 916.12) scale(0.9670 1)" font-family="Liberation Sans, Arial, Helvetica, sans-serif" font-size="36.00" fill="#262626" text-anchor="end">10</text>
<text transform="translate(189.20 826.34) scale(0.9670 1)" font-family="Liberation Sans, Arial, Helvetica, sans-serif" font-size="36.00" fill="#262626" text-anchor="end">20</text>
<text transform="translate(189.20 736.56) scale(0.9670 1)" font-family="Liberation Sans, Arial, Helvetica, sans-serif" font-size="36.00" fill="#262626" text-anchor="end">30</text>
<text transform="translate(189.20 646.78) scale(0.9670 1)" font-family="Liberation Sans, Arial, Helvetica, sans-serif" font-size="36.00" fill="#262626" text-anchor="end">40</text>
<text transform="translate(189.20 557.00) scale(0.9670 1)" font-family="Liberation Sans, Arial, Helvetica, sans-serif" font-size="36.00" fill="#262626" text-anchor="end">50</text>
<text transform="translate(189.20 467.22) scale(0.9670 1)" font-family="Liberation Sans, Arial, Helvetica, sans-serif" font-size="36.00" fill="#262626" text-anchor="end">60</text>
<text transform="translate(189.20 377.44) scale(0.9670 1)" font-family="Liberation Sans, Arial, Helvetica, sans-serif" font-size="36.00" fill="#262626" text-anchor="end">70</text>
<text transform="translate(189.20 287.66) scale(0.9670 1)" font-family="Liberation Sans, Arial, Helvetica, sans-serif" font-size="36.00" fill="#262626" text-anchor="end">80</text>
<text transform="translate(189.20 197.88) scale(0.9670 1)" font-family="Liberation Sans, Arial, Helvetica, sans-serif" font-size="36.00" fill="#262626" text-anchor="end">90</text>
<text transform="translate(189.20 108.10) scale(0.9670 1)" font-family="Liberation Sans, Arial, Helvetica, sans-serif" font-size="36.00" fill="#262626" text-anchor="end">100</text>
<text transform="translate(395.20 1043.30) scale(0.9670 1)" font-family="Liberation Sans, Arial, Helvetica, sans-serif" font-size="36.00" fill="#262626" text-anchor="middle">200</text>
<text transform="translate(586.76 1043.30) scale(0.9670 1)" font-family="Liberation Sans, Arial, Helvetica, sans-serif" font-size="36.00" fill="#262626" text-anchor="middle">400</text>
<text transform="translate(778.32 1043.30) scale(0.9670 1)" font-family="Liberation Sans, Arial, Helvetica, sans-serif" font-size="36.00" fill="#262626" text-anchor="middle">600</text>
<text transform="translate(969.88 1043.30) scale(0.9670 1)" font-family="Liberation Sans, Arial, Helvetica, sans-serif" font-size="36.00" fill="#262626" text-anchor="middle">800</text>
<text transform="translate(1161.44 1043.30) scale(0.9670 1)" font-family="Liberation Sans, Arial, Helvetica, sans-serif" font-size="36.00" fill="#262626" text-anchor="middle">1000</text>
<text transform="translate(1353.00 1043.30) scale(0.9670 1)" font-family="Liberation Sans, Arial, Helvetica, sans-serif" font-size="36.00" fill="#262626" text-anchor="middle">1200</text>
<text transform="translate(778.30 76.10) scale(0.9100 1)" font-family="Liberation Sans, Arial, Helvetica, sans-serif" font-size="57.50" fill="#000" text-anchor="middle">F8</text>
<text transform="translate(777.80 1109.40) scale(0.9620 1)" font-family="Liberation Sans, Arial, Helvetica, sans-serif" font-size="55.00" fill="#262626" text-anchor="middle">Iteration#</text>
<text transform="translate(108.00 543.50) rotate(-90) scale(0.9620 1)" font-family="Liberation Sans, Arial, Helvetica, sans-serif" font-size="55.00" fill="#262626" text-anchor="middle">Percentage (%)</text>
</svg></body></html>
